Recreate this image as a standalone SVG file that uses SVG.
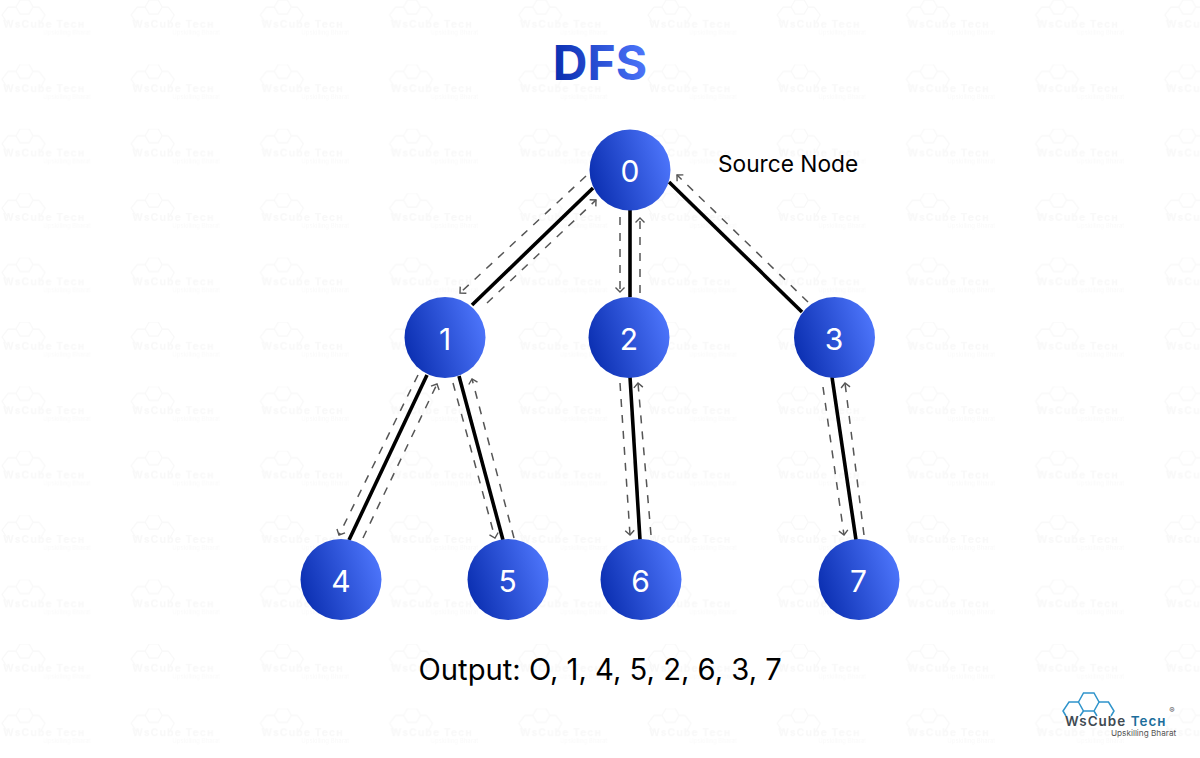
<svg xmlns="http://www.w3.org/2000/svg" width="1200" height="758" viewBox="0 0 1200 758">
<style>
text{font-family:Inter,"Liberation Sans",sans-serif}
.edge{stroke:#000;stroke-width:3.6;fill:none}
.trace{stroke:#555;stroke-width:1.5;stroke-dasharray:8 8;fill:none;marker-end:url(#chev)}
.disc{fill:url(#ball)}
.num{fill:#fff;font-size:30px;font-weight:400;text-anchor:middle}
.wm{fill:none;stroke:#f8f8f8;stroke-width:1.2}
.wmt{fill:#f8f8f8;font-weight:700;font-size:10.5px;letter-spacing:1px;font-variant:small-caps}
.wms{fill:#f9f9f9;font-size:6px}
.hex{fill:none;stroke:#2f94cb;stroke-width:1.5}
</style>
<defs>
<linearGradient id="ball" x1="0" y1="0.68" x2="1" y2="0.36"><stop offset="0" stop-color="#0a2eb0"/><stop offset="1" stop-color="#4d75fb"/></linearGradient>
<linearGradient id="title" gradientUnits="userSpaceOnUse" x1="555" y1="70" x2="646" y2="55"><stop offset="0" stop-color="#0a2eb0"/><stop offset="1" stop-color="#4d75fb"/></linearGradient>
<marker id="chev" viewBox="-6 -6 8 12" refX="0" refY="0" markerWidth="8" markerHeight="12" markerUnits="userSpaceOnUse" orient="auto" overflow="visible"><path d="M-4.5,-4.5 L0,0 L-4.5,4.5" fill="none" stroke="#555" stroke-width="1.4"/></marker>
<pattern id="mark" patternUnits="userSpaceOnUse" width="129.2" height="64.4">
<path class="wm" d="M16,7 L20,0 H29 L33,7 L29,14 H20 Z M16,7 H8 L2,15 L8,24 M33,7 H39 L45,15 L40,24"/>
<text class="wmt" x="3" y="28">WsCube Tech</text>
<text class="wms" x="43" y="35">Upskilling Bharat</text>
</pattern>
</defs>
<rect width="1200" height="758" fill="#fff"/>
<rect id="watermark" width="1200" height="758" fill="url(#mark)"/>
<text id="title-text" x="600" y="80" font-size="48" font-weight="700" text-anchor="middle" fill="url(#title)">DFS</text>
<g id="connectors">
<path class="edge" d="M593,188 L472,305"/>
<path class="edge" d="M630,205 V297"/>
<path class="edge" d="M669,182 L802,312"/>
<path class="edge" d="M427,375 L349,540"/>
<path class="edge" d="M459,376 L503,540"/>
<path class="edge" d="M630,377 L640,540"/>
<path class="edge" d="M832,377 L856,540"/>
<path class="trace" d="M586,176 L460,293"/>
<path class="trace" d="M487,303 L596,200"/>
<path class="trace" d="M620,217 V292"/>
<path class="trace" d="M640,293 V218"/>
<path class="trace" d="M808,302 L677,175"/>
<path class="trace" d="M418,375 L339,535"/>
<path class="trace" d="M363,538 L437,384"/>
<path class="trace" d="M453,383 L495,538"/>
<path class="trace" d="M514,538 L472,379"/>
<path class="trace" d="M620,383 L630,535"/>
<path class="trace" d="M651,535 L638,383"/>
<path class="trace" d="M823,387 L844,535"/>
<path class="trace" d="M864,535 L845,383"/>
</g>
<g id="node-0"><circle class="disc" cx="630" cy="170" r="40.5"/><text class="num" x="630" y="182">0</text></g>
<g id="node-1"><circle class="disc" cx="445" cy="337.5" r="40.5"/><text class="num" x="445" y="349.5">1</text></g>
<g id="node-2"><circle class="disc" cx="629" cy="337.5" r="40.5"/><text class="num" x="629" y="349.5">2</text></g>
<g id="node-3"><circle class="disc" cx="834.5" cy="337.5" r="40.5"/><text class="num" x="834" y="349.5">3</text></g>
<g id="node-4"><circle class="disc" cx="341" cy="579.5" r="40.5"/><text class="num" x="341" y="591.5">4</text></g>
<g id="node-5"><circle class="disc" cx="508" cy="579.5" r="40.5"/><text class="num" x="507.5" y="591.5">5</text></g>
<g id="node-6"><circle class="disc" cx="641" cy="579.5" r="40.5"/><text class="num" x="640.5" y="591.5">6</text></g>
<g id="node-7"><circle class="disc" cx="859" cy="579.5" r="40.5"/><text class="num" x="858.5" y="591.5">7</text></g>
<text id="source-label" x="718" y="172" font-size="22.7" font-weight="400" fill="#000">Source Node</text>
<text id="output" x="418.5" y="680" font-size="29.2" font-weight="400" fill="#000">Output: O, 1, 4, 5, 2, 6, 3, 7</text>
<g id="logo">
<path class="hex" d="M1078.5,702 L1083.5,693 H1094 L1099,702 L1094,711 H1083.5 Z"/>
<path class="hex" d="M1078.5,702 H1069 L1063,711 L1066,716 M1083.5,711 L1080,716"/>
<path class="hex" d="M1099,702 H1108.5 L1114,711 L1111,716 M1094,711 L1097,716"/>
<text x="1065" y="726" font-size="13.4" font-weight="600" letter-spacing="1.05" fill="#3f4a52" style="font-variant:small-caps">WsCube <tspan fill="#1c6e9c">Tech</tspan></text>
<text x="1111" y="736" font-size="8.2" fill="#555">Upskilling Bharat</text>
<text x="1172" y="713" font-size="8" text-anchor="middle" fill="#555">®</text>
</g>
</svg>
